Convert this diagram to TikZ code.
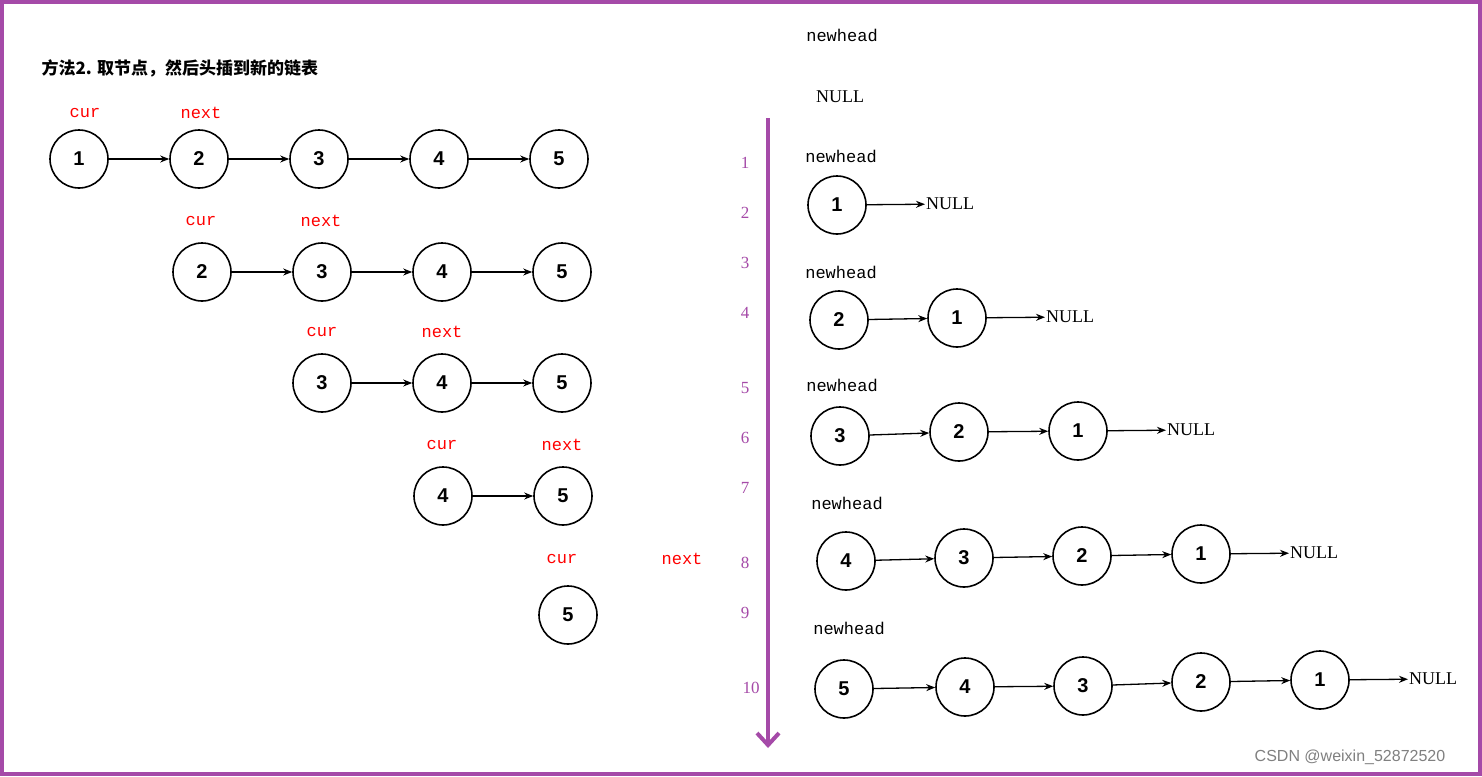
\documentclass[tikz,border=0pt]{standalone}
\usepackage{fontspec}
\setmainfont{Liberation Serif}
\newfontfamily\cjk{Noto Sans CJK SC}
\newfontfamily\nsans{Liberation Sans}
\newfontfamily\mono{Liberation Mono}
\usetikzlibrary{arrows.meta}
\definecolor{pur}{HTML}{A54AA8}
\begin{document}
\begin{tikzpicture}[x=1pt,y=-1pt,
 nd/.style={circle,draw,line width=1.6pt,minimum size=58pt,inner sep=0pt,font=\nsans\bfseries\fontsize{20}{20}\selectfont},
 lab/.style={text=red,font=\mono\fontsize{17}{17}\selectfont},
 nh/.style={font=\mono\fontsize{17}{17}\selectfont},
 nl/.style={font=\fontsize{18}{18}\selectfont,inner sep=1pt},
 num/.style={text=pur,font=\fontsize{17}{17}\selectfont},
 ar/.style={-{Stealth[length=9pt,width=7pt]},line width=1.3pt}]
\useasboundingbox (0,0) rectangle (1482,776);
\fill[white] (0,0) rectangle (1482,776);
\draw[pur,line width=4pt] (2,2) rectangle (1480,774);
\node[font=\cjk\bfseries\fontsize{17}{17}\selectfont,anchor=west] (t) at (38,68) {方法2. 取节点，然后头插到新的链表};
% left rows
\foreach \i/\x in {1/79,2/199,3/319,4/439,5/559} \node[nd] (a\i) at (\x,159) {\i};
\foreach \i/\x in {2/202,3/322,4/442,5/562} \node[nd] (b\i) at (\x,272) {\i};
\foreach \i/\x in {3/322,4/442,5/562} \node[nd] (c\i) at (\x,383) {\i};
\foreach \i/\x in {4/443,5/563} \node[nd] (d\i) at (\x,496) {\i};
\node[nd] (e5) at (568,615) {5};
\foreach \a/\b in {a1/a2,a2/a3,a3/a4,a4/a5,b2/b3,b3/b4,b4/b5,c3/c4,c4/c5,d4/d5} \draw[ar] (\a) -- (\b);
\node[lab] (l1) at (85,113) {cur}; \node[lab] (l2) at (201,113) {next};
\node[lab] (l3) at (201,221) {cur}; \node[lab] (l4) at (321,221) {next};
\node[lab] (l5) at (322,332) {cur}; \node[lab] (l6) at (442,332) {next};
\node[lab] (l7) at (442,445) {cur}; \node[lab] (l8) at (562,445) {next};
\node[lab] (l9) at (562,559) {cur}; \node[lab] (l10) at (682,559) {next};
% timeline
\coordinate (ts) at (768,118); \coordinate (te) at (768,748);
\draw[pur,line width=4pt,-{Straight Barb[length=12pt,width=22pt,line width=4pt]}] (ts) -- (te);
\foreach \n/\y in {1/163,2/213,3/263,4/313,5/388,6/438,7/488,8/563,9/613} \node[num] (n\n) at (745,\y) {\n};
\node[num] (n10) at (751,688) {10};
% right
\node[nh] (h0) at (842,35) {newhead}; \node[nl] (z0) at (840,97) {NULL};
\node[nh] (h1) at (841,156) {newhead};
\node[nd] (p1a) at (837,205) {1}; \node[nl,anchor=west] (z1) at (925,204) {NULL};
\draw[ar] (p1a) -- (z1);
\node[nh] (h2) at (841,272) {newhead};
\node[nd] (p2a) at (839,320) {2}; \node[nd] (p2b) at (957,318) {1}; \node[nl,anchor=west] (z2) at (1045,317) {NULL};
\draw[ar] (p2a) -- (p2b); \draw[ar] (p2b) -- (z2);
\node[nh] (h3) at (842,385) {newhead};
\node[nd] (p3a) at (840,436) {3}; \node[nd] (p3b) at (959,432) {2}; \node[nd] (p3c) at (1078,431) {1}; \node[nl,anchor=west] (z3) at (1166,430) {NULL};
\draw[ar] (p3a) -- (p3b); \draw[ar] (p3b) -- (p3c); \draw[ar] (p3c) -- (z3);
\node[nh] (h4) at (847,503) {newhead};
\node[nd] (p4a) at (846,561) {4}; \node[nd] (p4b) at (964,558) {3}; \node[nd] (p4c) at (1082,556) {2}; \node[nd] (p4d) at (1201,554) {1}; \node[nl,anchor=west] (z4) at (1289,553) {NULL};
\draw[ar] (p4a) -- (p4b); \draw[ar] (p4b) -- (p4c); \draw[ar] (p4c) -- (p4d); \draw[ar] (p4d) -- (z4);
\node[nh] (h5) at (849,628) {newhead};
\node[nd] (p5a) at (844,689) {5}; \node[nd] (p5b) at (965,687) {4}; \node[nd] (p5c) at (1083,686) {3}; \node[nd] (p5d) at (1201,682) {2}; \node[nd] (p5e) at (1320,680) {1}; \node[nl,anchor=west] (z5) at (1408,679) {NULL};
\draw[ar] (p5a) -- (p5b); \draw[ar] (p5b) -- (p5c); \draw[ar] (p5c) -- (p5d); \draw[ar] (p5d) -- (p5e); \draw[ar] (p5e) -- (z5);
\node[text=gray,font=\nsans\fontsize{16}{16}\selectfont] (w) at (1350,757) {CSDN @weixin\_52872520};
\end{tikzpicture}
\end{document}
